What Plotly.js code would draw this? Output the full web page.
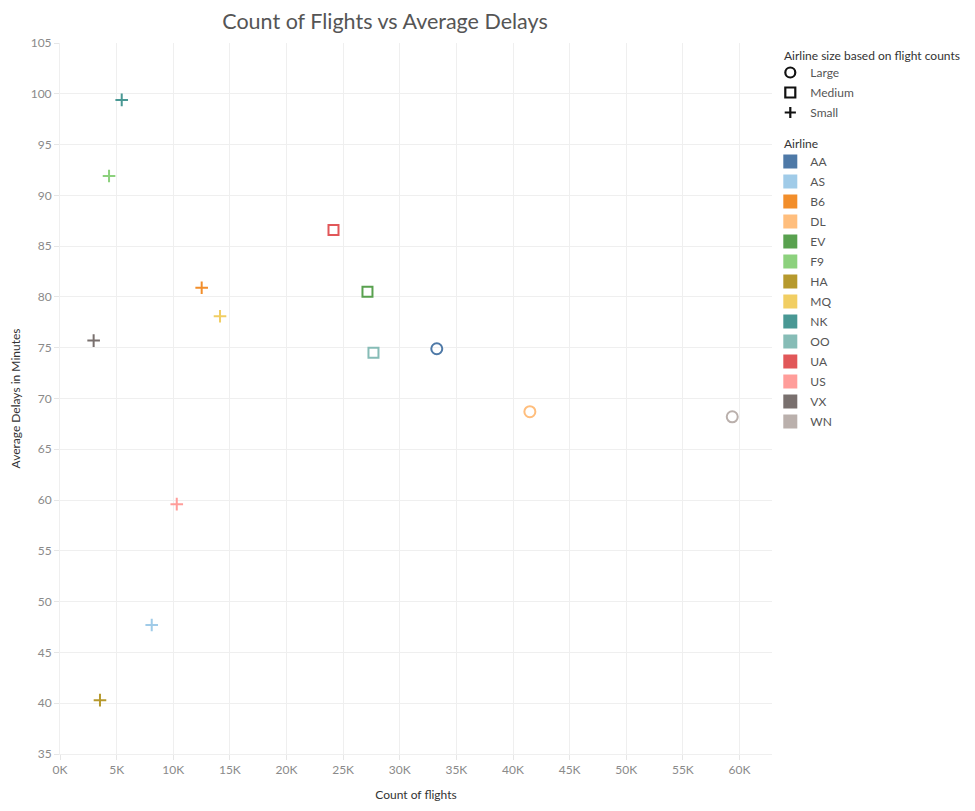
<!DOCTYPE html>
<html>
<head>
<meta charset="utf-8">
<script src="https://cdn.plot.ly/plotly-3.0.1.min.js"></script>
<style>html,body{margin:0;padding:0;background:#fff;}#chart{width:975px;height:811px;}</style>
</head>
<body>
<div id="chart"></div>
<script>
const airlines = ["AA","AS","B6","DL","EV","F9","HA","MQ","NK","OO","UA","US","VX","WN"];
const flightCounts = [33270, 8100, 12510, 41490, 27150, 4330, 3530, 14130, 5450, 27680, 24150, 10310, 2970, 59360];
const avgDelays = [74.9, 47.7, 80.9, 68.7, 80.5, 91.9, 40.3, 78.1, 99.4, 74.5, 86.6, 59.6, 75.7, 68.2];
const sizeClass = ["Large","Small","Small","Large","Medium","Small","Small","Small","Small","Medium","Medium","Small","Small","Large"];
const colors = ["#4e79a7","#a0cbe8","#f28e2b","#ffbe7d","#59a14f","#8cd17d","#b6992d","#f1ce63","#499894","#86bcb6","#e15759","#ff9d9a","#79706e","#bab0ac"];
const sizeNames = ["Large","Medium","Small"];
const xTickVals = [0,5000,10000,15000,20000,25000,30000,35000,40000,45000,50000,55000,60000];
const xTickText = ["0K","5K","10K","15K","20K","25K","30K","35K","40K","45K","50K","55K","60K"];

const symbolFor = {Large:"circle-open", Medium:"square-open", Small:"cross-thin-open"};
const sizeFor = {Large:11, Medium:10, Small:9};

const traces = [];
airlines.forEach((a,i)=>{
  const s = sizeClass[i];
  traces.push({
    type:"scatter", mode:"markers", name:a,
    x:[flightCounts[i]], y:[avgDelays[i]],
    marker:{symbol:symbolFor[s], size:sizeFor[s], color:colors[i], line:{width:2, color:colors[i]}},
    showlegend:false,
    hovertemplate:a+"<br>%{x}<br>%{y}<extra></extra>"
  });
});
// size legend
sizeNames.forEach(s=>{
  traces.push({
    type:"scatter", mode:"markers", name:s, x:[null], y:[null],
    marker:{symbol:symbolFor[s], size:(s==="Small"?8:10), color:"#111", line:{width:2.2, color:"#111"}},
    legend:"legend", legendgroup:"s_"+s, showlegend:true
  });
});
// airline legend
airlines.forEach((a,i)=>{
  traces.push({
    type:"scatter", mode:"markers", name:a, x:[null], y:[null],
    marker:{symbol:"square", size:14, color:colors[i]},
    legend:"legend2", legendgroup:"a_"+a, showlegend:true
  });
});

const fontFam = "Lato, 'Open Sans', sans-serif";
const plotTop = 43, plotH = 711, plotL = 60, plotW = 711.7;
const px2py = p => 1-(p-plotTop)/plotH;
const px2px = p => (p-plotL)/plotW;

const layout = {
  width:975, height:811,
  margin:{l:60, r:203, t:43, b:57},
  paper_bgcolor:"#fff", plot_bgcolor:"#fff",
  font:{family:fontFam, size:12, color:"#555"},
  title:{text:"Count of Flights vs Average Delays", x:385/975, xanchor:"center", y:1-21/811, yanchor:"middle",
         font:{family:fontFam, size:21.5, color:"#555"}},
  xaxis:{
    range:[0, 62870], tickvals:xTickVals, ticktext:xTickText,
    showgrid:true, gridcolor:"#efefef", gridwidth:1, zeroline:false,
    showline:true, linecolor:"#efefef", linewidth:1,
    ticks:"outside", ticklen:5, tickcolor:"#e6e6e6",
    tickfont:{family:fontFam, size:12, color:"#8a8a8a"},
    title:{text:"Count of flights", font:{family:fontFam, size:12, color:"#333"}, standoff:14}
  },
  yaxis:{
    range:[35,105], dtick:5, tick0:35,
    showgrid:true, gridcolor:"#efefef", gridwidth:1, zeroline:false,
    showline:true, linecolor:"#efefef", linewidth:1,
    ticks:"outside", ticklen:5, tickcolor:"#e6e6e6",
    tickfont:{family:fontFam, size:12, color:"#8a8a8a"},
    title:{text:"Average Delays in Minutes", font:{family:fontFam, size:12, color:"#333"}, standoff:7}
  },
  legend:{
    x:px2px(770), xanchor:"left", y:px2py(58), yanchor:"top",
    font:{family:fontFam, size:12, color:"#555"}, bgcolor:"rgba(0,0,0,0)",
    itemsizing:"trace", tracegroupgap:1
  },
  legend2:{
    x:px2px(770), xanchor:"left", y:px2py(147), yanchor:"top",
    font:{family:fontFam, size:12, color:"#555"}, bgcolor:"rgba(0,0,0,0)",
    itemsizing:"trace", tracegroupgap:1
  },
  annotations:[
    {text:"Airline size based on flight counts", xref:"paper", yref:"paper", x:px2px(782), y:px2py(55),
     xanchor:"left", yanchor:"middle", showarrow:false, font:{family:fontFam, size:12, color:"#333"}},
    {text:"Airline", xref:"paper", yref:"paper", x:px2px(782), y:px2py(143),
     xanchor:"left", yanchor:"middle", showarrow:false, font:{family:fontFam, size:12, color:"#333"}}
  ],
  showlegend:true
};
Plotly.newPlot("chart", traces, layout, {displayModeBar:false, responsive:false});
</script>
</body>
</html>
